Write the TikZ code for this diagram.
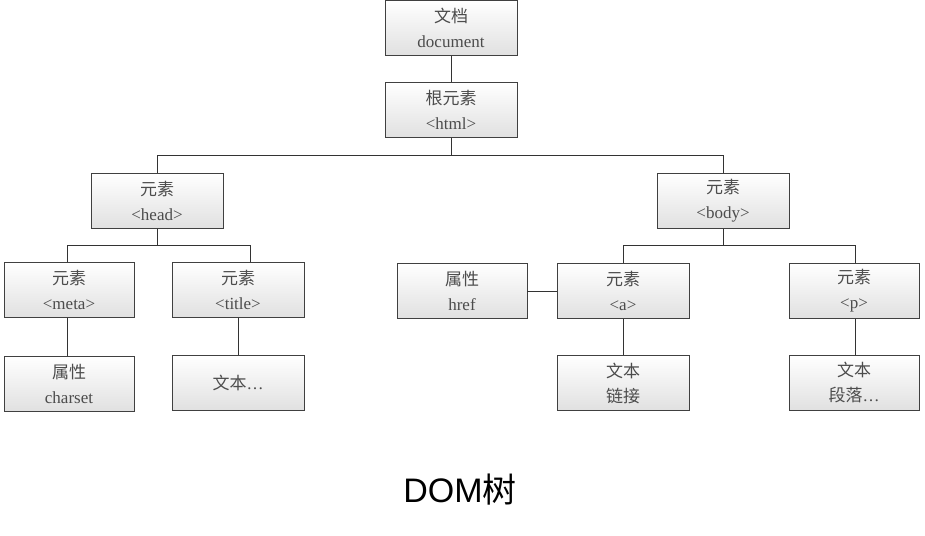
\documentclass[tikz,border=0pt]{standalone}
\usepackage{fontspec}
\setmainfont{Liberation Serif}
\newfontfamily\cjk{Noto Sans CJK SC}
\newfontfamily\capfont{Liberation Sans}
\usetikzlibrary{positioning}

\begin{document}
\begin{tikzpicture}[x=1pt,y=-1pt,
  elem/.style={draw=black!75, top color=white, bottom color=black!12, minimum width=132pt, minimum height=55pt,
    align=center, text=black!70, font=\fontsize{17}{25}\selectfont, inner sep=1pt},
  link/.style={draw=black!80, line width=0.8pt},
]
\useasboundingbox (0,0) rectangle (925,535);

\node[elem] (doc) at (451,28) {{\cjk 文档}\\document};
\node[elem] (html) at (451,110) {{\cjk 根元素}\\<html>};
\node[elem] (head) at (157,201) {{\cjk 元素}\\<head>};
\node[elem] (body) at (723,201) {{\cjk 元素}\\<body>};
\node[elem, minimum width=130pt] (meta) at (69,290) {{\cjk 元素}\\<meta>};
\node[elem] (title) at (238,290) {{\cjk 元素}\\<title>};
\node[elem, minimum width=130pt] (href) at (462,291) {{\cjk 属性}\\href};
\node[elem] (a) at (623,291) {{\cjk 元素}\\<a>};
\node[elem, minimum width=130pt] (p) at (854,291) {{\cjk 元素}\\<p>};
\node[elem, minimum width=130pt] (charset) at (69,384) {{\cjk 属性}\\charset};
\node[elem] (text) at (238,383) {{\cjk 文本}…};
\node[elem] (linktext) at (623,383) {{\cjk 文本}\\{\cjk 链接}};
\node[elem, minimum width=130pt] (ptext) at (854,383) {{\cjk 文本}\\{\cjk 段落}…};

\node (caption) at (460,490) {\capfont\fontsize{34}{40}\selectfont DOM{\cjk 树}};

% tree lines
\draw[link] (doc) -- (html);
\draw[link] (html.south) -- (451,155) -| (head.north);
\draw[link] (451,155) -| (body.north);
\draw[link] (head.south) -- (157,245) -| ([xshift=-2pt]meta.north);
\draw[link] (157,245) -| ([xshift=12pt]title.north);
\draw[link] (body.south) -- (723,245) -| (a.north);
\draw[link] (723,245) -| ([xshift=1pt]p.north);
\draw[link] (href) -- (a);
\draw[link] ([xshift=-2pt]meta.south) -- ([xshift=-2pt]charset.north);
\draw[link] (title) -- (text);
\draw[link] (a) -- (linktext);
\draw[link] ([xshift=1pt]p.south) -- ([xshift=1pt]ptext.north);
\end{tikzpicture}
\end{document}
